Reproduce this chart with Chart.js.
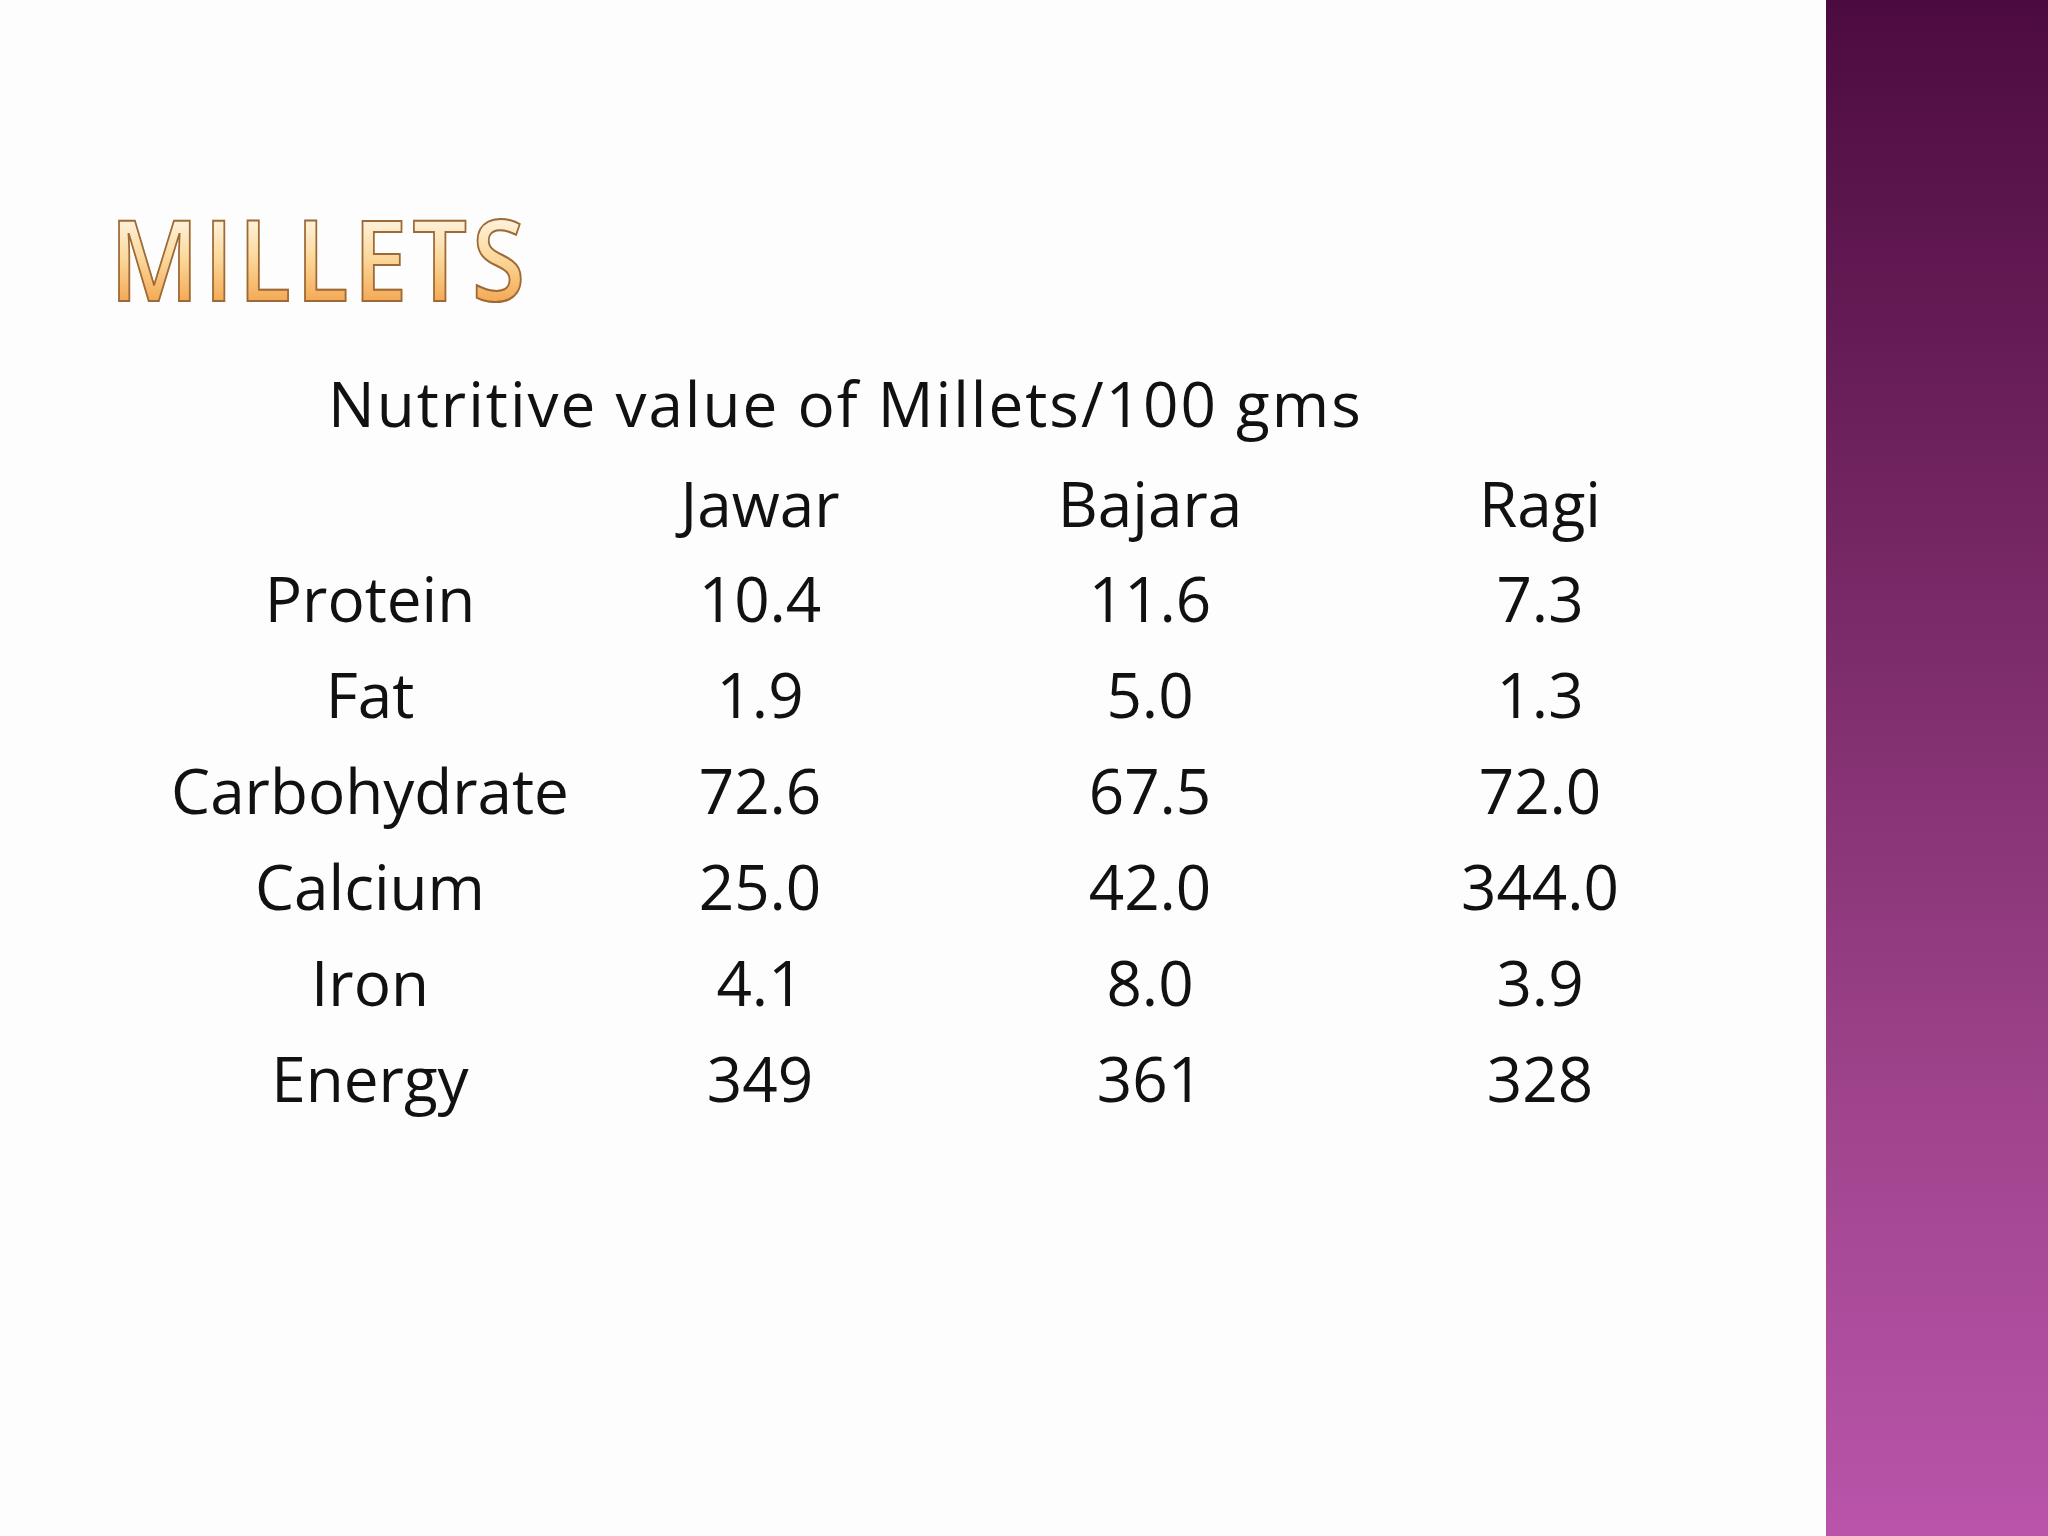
<!DOCTYPE html>
<html>
<head>
<meta charset="utf-8">
<script src="https://cdn.jsdelivr.net/npm/chart.js@4/dist/chart.umd.min.js"></script>
<style>
  html, body { margin: 0; padding: 0; width: 2048px; height: 1536px; overflow: hidden; background: #fdfdfd; font-family: "Open Sans", sans-serif; }
  #side { position: absolute; left: 1826px; top: 0; width: 222px; height: 1536px;
          background: linear-gradient(180deg, #4c0b40 0%, #7a2a68 40%, #a24690 75%, #b954aa 100%); }
  #title { position: absolute; left: 110px; top: 202px; font-size: 112px; font-weight: 600; letter-spacing: 6px;
           transform: scaleX(0.86); transform-origin: left top;
           background: linear-gradient(180deg, #fffaf0 5%, #fbd89a 50%, #f2a24a 95%);
           -webkit-background-clip: text; background-clip: text; color: transparent;
           -webkit-text-stroke: 2px #9c6a3a; line-height: 1; }
  #sub { position: absolute; left: 328px; top: 372px; font-size: 62px; letter-spacing: 2px; color: #111; line-height: 1; }
  #wrap { position: absolute; left: 0; top: 0; width: 1826px; height: 1536px; }
</style>
</head>
<body>
<div id="side"></div>
<div id="title">MILLETS</div>
<div id="sub">Nutritive value of Millets/100 gms</div>
<div id="wrap"><canvas id="tbl"></canvas></div>
<script>
const millets = ['Jawar', 'Bajara', 'Ragi'];
const nutrients = ['Protein', 'Fat', 'Carbohydrate', 'Calcium', 'Iron', 'Energy'];
const jawar = [10.4, 1.9, 72.6, 25.0, 4.1, 349];
const bajara = [11.6, 5.0, 67.5, 42.0, 8.0, 361];
const ragi = [7.3, 1.3, 72.0, 344.0, 3.9, 328];
const decimals = [1, 1, 1, 1, 1, 0];

const columns = [''].concat(millets);
const rows = ['header'].concat(nutrients);
const series = [jawar, bajara, ragi];

// draws the table text at the scale positions
const tableText = {
    id: 'tableText',
    afterDraw(chart) {
        const ctx = chart.ctx;
        const x = chart.scales.x;
        const y = chart.scales.y;
        ctx.save();
        ctx.font = '62px "Open Sans"';
        ctx.fillStyle = '#111';
        ctx.textAlign = 'center';
        ctx.textBaseline = 'middle';
        millets.forEach((m, i) => {
            ctx.fillText(m, x.getPixelForValue(i + 1), y.getPixelForValue(0));
        });
        nutrients.forEach((n, r) => {
            const py = y.getPixelForValue(r + 1);
            ctx.fillText(n, x.getPixelForValue(0), py);
            series.forEach((s, c) => {
                ctx.fillText(s[r].toFixed(decimals[r]), x.getPixelForValue(c + 1), py);
            });
        });
        ctx.restore();
    }
};

new Chart(document.getElementById('tbl'), {
    type: 'line',
    data: {
        labels: columns,
        datasets: [{ data: [], showLine: false }]
    },
    options: {
        responsive: true,
        maintainAspectRatio: false,
        animation: false,
        layout: { padding: { left: 370, right: 286, top: 509, bottom: 452 } },
        plugins: { legend: { display: false }, tooltip: { enabled: false } },
        scales: {
            x: { type: 'category', labels: columns, offset: false, display: false },
            y: { type: 'category', labels: rows, offset: false, display: false }
        }
    },
    plugins: [tableText]
});
</script>
</body>
</html>
